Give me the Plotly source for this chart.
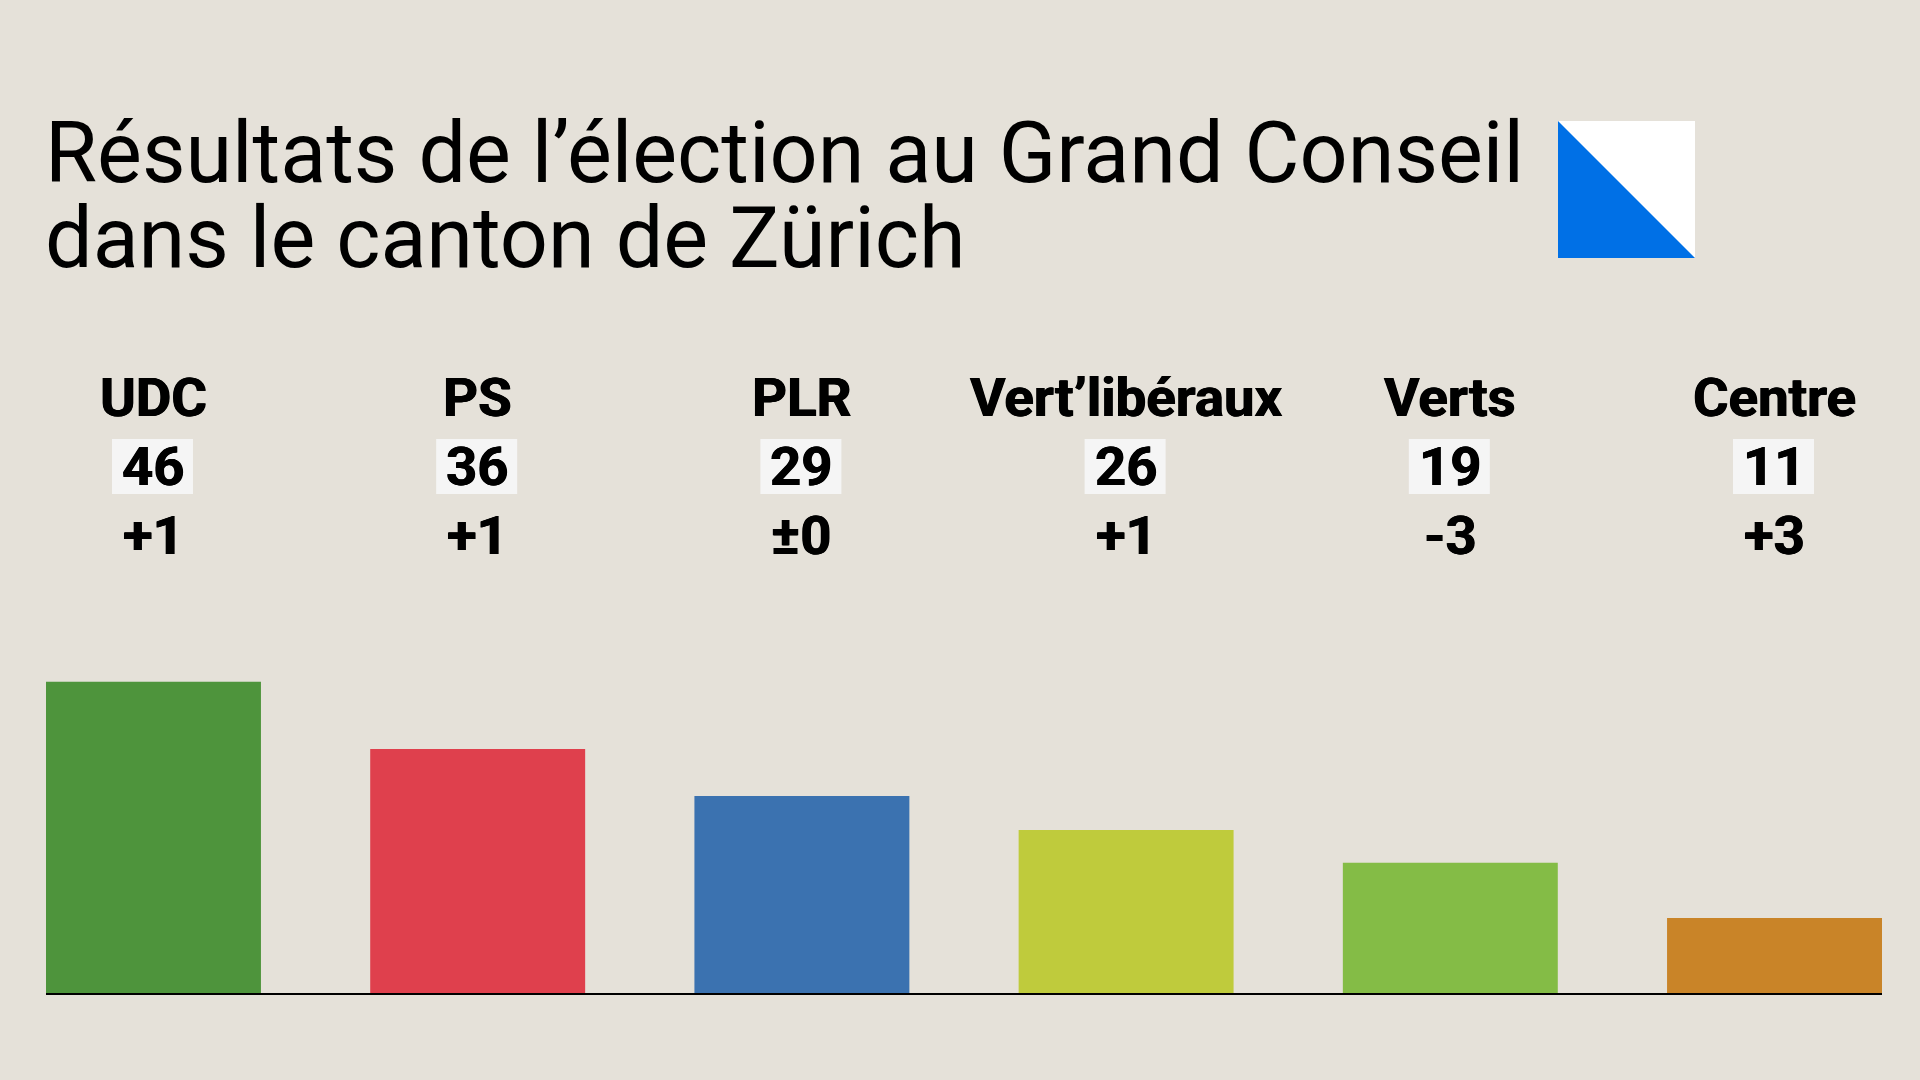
import plotly.graph_objects as go

parties = ["UDC", "PS", "PLR", "Vert’libéraux", "Verts", "Centre"]
bar_values = [45.9, 36, 29.05, 24.05, 19.2, 11.05]
seats = ["46", "36", "29", "26", "19", "11"]
changes = ["+1", "+1", "±0", "+1", "-3", "+3"]
colors = ["#4e943c", "#df404d", "#3b72b0", "#bfcb3c", "#84bc46", "#c98428"]
title_lines = ["Résultats de l’élection au Grand Conseil", "dans le canton de Zürich"]

W, H = 1920, 1080
L, R, T, B = 46, 1882, 0, 993
BG = "#e5e1d9"


def px(x):
    return (x - L) / (R - L)


def py(y):
    return (B - y) / (B - T)


fig = go.Figure(
    go.Bar(x=list(range(6)), y=bar_values, marker=dict(color=colors, line_width=0), width=0.663, hoverinfo="skip")
)

anns = []
for i, line in enumerate(title_lines):
    anns.append(dict(x=px(43), y=py(154 + i * 84), xref="paper", yref="paper", text=line, showarrow=False,
                     xanchor="left", yanchor="middle", font=dict(family="Roboto", size=84.5, color="#000000")))
bold = dict(family="Roboto", size=54.5, color="#000000", weight=700,
            shadow="0.6px 0 0 #000000, -0.6px 0 0 #000000")
for i in range(6):
    anns.append(dict(x=i, y=py(397), xref="x", yref="paper", text=f"<b>{parties[i]}</b>", showarrow=False,
                     xanchor="center", yanchor="middle", font=bold))
    anns.append(dict(x=i, y=py(465.5), xref="x", yref="paper", text=f"<b>{seats[i]}</b>", showarrow=False,
                     xanchor="center", yanchor="middle", font=bold))
    anns.append(dict(x=i, y=py(535), xref="x", yref="paper", text=f"<b>{changes[i]}</b>", showarrow=False,
                     xanchor="center", yanchor="middle", font=bold))

shapes = [
    dict(type="rect", xref="x", yref="paper", xsizemode="pixel", xanchor=i, x0=-41.5, x1=39.5,
         y0=py(439), y1=py(494), fillcolor="#f5f5f5", line_width=0, layer="below")
    for i in range(6)
]
shapes += [
    dict(type="rect", xref="paper", yref="paper", x0=px(1558), x1=px(1695), y0=py(121), y1=py(258),
         fillcolor="#ffffff", line_width=0, layer="above"),
    dict(type="path", xref="paper", yref="paper",
         path=f"M {px(1558)} {py(121)} L {px(1695)} {py(258)} L {px(1558)} {py(258)} Z",
         fillcolor="#0070e6", line_width=0, layer="above"),
]

fig.update_layout(
    width=W, height=H, autosize=False,
    margin=dict(l=L, r=W - R, t=T, b=H - B, pad=0),
    paper_bgcolor=BG, plot_bgcolor=BG, showlegend=False,
    annotations=anns, shapes=shapes,
    xaxis=dict(range=[-0.3315, 5.3315], showgrid=False, zeroline=False, showticklabels=False, ticks="",
               showline=True, linecolor="#000000", linewidth=2, fixedrange=True),
    yaxis=dict(range=[0, 993 / 6.78], showgrid=False, zeroline=False, showticklabels=False, ticks="",
               showline=False, fixedrange=True),
)

fig.write_html("out.html", include_plotlyjs=True, config={"displayModeBar": False},
               post_script="document.body.style.margin='0';")
